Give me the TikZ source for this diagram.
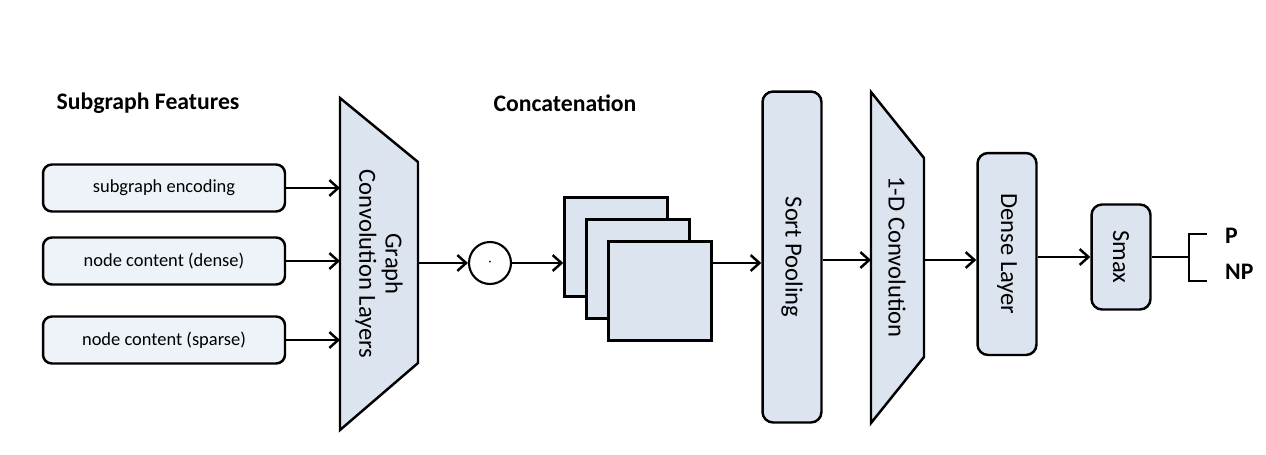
\documentclass[tikz,border=0pt]{standalone}
\usepackage{fontspec}
\setmainfont{Carlito}
\usetikzlibrary{positioning,arrows.meta,calc}

\definecolor{boxfill}{HTML}{DCE4F0}
\definecolor{inputfill}{HTML}{EEF2F9}

\begin{document}
\begin{tikzpicture}[x=0.02cm,y=-0.02cm,
    feature/.style={rectangle, rounded corners=5pt, draw, line width=1.4pt, fill=inputfill, minimum width=4.84cm, minimum height=0.94cm, font=\fontsize{10.5}{12}\selectfont},
    layer/.style={rectangle, rounded corners=6pt, draw, line width=1.4pt, fill=boxfill, minimum width=1.18cm},
    trap/.style={draw, line width=1.4pt, fill=boxfill},
    vtext/.style={rotate=-90, align=center, font=\fontsize{14}{15}\selectfont},
    heading/.style={font=\bfseries\fontsize{13.5}{15}\selectfont},
    map/.style={rectangle, draw, line width=1.4pt, fill=boxfill, minimum width=2.06cm, minimum height=1.98cm},
    arrow/.style={line width=1.4pt, -{Straight Barb[length=5pt,width=9pt]}}]

\useasboundingbox (0,0) rectangle (1266,454);

\node [heading] (feat) at (148,103) {Subgraph Features};
\node [heading] (concat) at (565,103) {Concatenation};

\node [feature] (enc) at (164,188) {subgraph encoding};
\node [feature] (dense) at (164,261) {node content (dense)};
\node [feature] (sparse) at (164,340) {node content (sparse)};

% graph convolution trapezoid
\draw [trap] (340,98) -- (418,162) -- (418,363) -- (340,430) -- cycle;
\node [vtext] (gcl) at (379,264) {Graph\\Convolution Layers};
\coordinate (gclin1) at (340,188);
\coordinate (gclin2) at (340,261);
\coordinate (gclin3) at (340,340);
\coordinate (gclout) at (418,263);

\node [circle, draw, line width=1.2pt, minimum size=0.84cm, inner sep=0pt] (dot) at (490,263) {$\cdot$};

\node [map] (m1) at (616,247) {};
\node [map] (m2) at (638,269) {};
\node [map] (m3) at (660,291) {};

\node [layer, minimum height=6.62cm] (sort) at (792,257) {};
\node [vtext] at (sort) {Sort Pooling};

% 1-D convolution trapezoid
\draw [trap] (871,92) -- (924,158) -- (924,357) -- (871,423) -- cycle;
\node [vtext] (conv) at (897,257) {1-D Convolution};
\coordinate (convin) at (871,260);
\coordinate (convout) at (924,260);

\node [layer, minimum height=4.04cm] (dl) at (1007,254) {};
\node [vtext] at (dl) {Dense Layer};

\node [layer, minimum height=2.1cm] (smax) at (1121,257) {};
\node [vtext] at (smax) {Smax};

\coordinate (br) at (1189,257);
\node [heading, anchor=west] (p) at (1219,236) {P};
\node [heading, anchor=west] (np) at (1219,272) {NP};

\draw [arrow] (enc) -- (gclin1);
\draw [arrow] (dense) -- (gclin2);
\draw [arrow] (sparse) -- (gclin3);
\draw [arrow] (gclout) -- (dot);
\draw [arrow] (dot) -- (dot -| m1.west);
\draw [arrow] (m3.east |- dot) -- (sort.west |- dot);
\draw [arrow] (sort.east |- convin) -- (convin);
\draw [arrow] (convout) -- (dl.west |- convout);
\draw [arrow] (dl.east |- smax) -- (smax);
\draw [line width=1.4pt] (smax) -- (br);
\draw [line width=1.4pt] (1207,234) -- (1189,234) -- (1189,281) -- (1207,281);

\end{tikzpicture}
\end{document}
